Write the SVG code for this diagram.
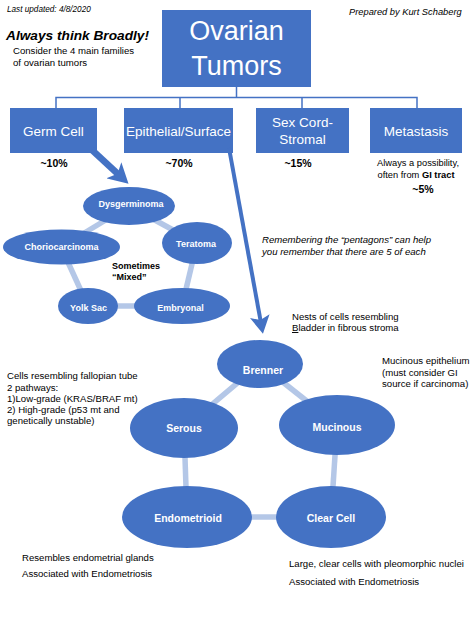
<svg xmlns="http://www.w3.org/2000/svg" width="474" height="632" viewBox="0 0 474 632">
<style>
text{font-family:"Liberation Sans",Arial,sans-serif;fill:#000}
.box{fill:#4472C4}
.bt{fill:#fff;font-size:13.5px;text-anchor:middle}
.ell{fill:#4472C4}
.et{fill:#fff;font-weight:bold;text-anchor:middle}
.g{font-size:9px}
.e{font-size:10.5px}
.pct{font-size:10.5px;font-weight:bold;text-anchor:middle}
.note{font-size:9.6px}
.tree{fill:none;stroke:#4472C4;stroke-width:1.5}
.pent{stroke:#B4C7E7;stroke-width:5.5;fill:none}
.arr{stroke:#4472C4;fill:none}
</style>
<defs>
<marker id="headBig" viewBox="0 0 20 22" refX="7" refY="11" markerWidth="20" markerHeight="22" markerUnits="userSpaceOnUse" orient="auto">
<path d="M0,0 L20,11 L0,22 L5,11 Z" fill="#4472C4"/>
</marker>
<marker id="headSmall" viewBox="0 0 18 20" refX="6" refY="10" markerWidth="18" markerHeight="20" markerUnits="userSpaceOnUse" orient="auto">
<path d="M0,0 L18,10 L0,20 L4,10 Z" fill="#4472C4"/>
</marker>
</defs>

<text x="7" y="12" font-size="8.2" font-style="italic">Last updated: 4/8/2020</text>
<text x="349" y="15" font-size="9.3" font-style="italic">Prepared by Kurt Schaberg</text>
<text x="6" y="40" font-size="13.7" font-style="italic" font-weight="bold">Always think Broadly!</text>
<text x="13" y="54" class="note">Consider the 4 main families</text>
<text x="13" y="66" class="note">of ovarian tumors</text>

<g id="connectors">
<path class="tree" d="M236.5,87 V97.5 M56,108 V97.5 H417 V108 M180,97.5 V108 M302,97.5 V108"/>
<line class="pent" x1="129" y1="206" x2="61" y2="247"/>
<line class="pent" x1="129" y1="206" x2="197" y2="243"/>
<line class="pent" x1="197" y1="243" x2="182" y2="306"/>
<line class="pent" x1="88" y1="306" x2="182" y2="306"/>
<line class="pent" x1="61" y1="247" x2="88" y2="306"/>
<line class="pent" x1="260" y1="364" x2="184" y2="428"/>
<line class="pent" x1="260" y1="364" x2="337" y2="425"/>
<line class="pent" x1="184" y1="428" x2="187" y2="517"/>
<line class="pent" x1="337" y1="425" x2="331" y2="517"/>
<line class="pent" x1="187" y1="517" x2="331" y2="517"/>
</g>

<g id="title">
<rect class="box" x="162" y="10" width="149" height="77"/>
<text x="236.5" y="40" font-size="27" fill="#fff" text-anchor="middle" style="fill:#fff">Ovarian</text>
<text x="236.5" y="75" font-size="27" text-anchor="middle" style="fill:#fff">Tumors</text>
</g>

<g id="germ-cell">
<rect class="box" x="10" y="108" width="87" height="45"/>
<text class="bt" x="53.5" y="136">Germ Cell</text>
<text class="pct" x="54" y="167">~10%</text>
</g>
<g id="epithelial">
<rect class="box" x="124" y="108" width="109" height="45"/>
<text class="bt" x="178.5" y="136">Epithelial/Surface</text>
<text class="pct" x="179" y="167">~70%</text>
</g>
<g id="sex-cord">
<rect class="box" x="256" y="108" width="93" height="45"/>
<text class="bt" x="302.5" y="127">Sex Cord-</text>
<text class="bt" x="302.5" y="144">Stromal</text>
<text class="pct" x="298" y="167">~15%</text>
</g>
<g id="metastasis">
<rect class="box" x="370" y="108" width="92" height="45"/>
<text class="bt" x="416" y="136">Metastasis</text>
<text x="418" y="166" font-size="9.3" text-anchor="middle">Always a possibility,</text>
<text x="416" y="178" font-size="9.3" text-anchor="middle">often from <tspan font-weight="bold">GI tract</tspan></text>
<text class="pct" x="423" y="193">~5%</text>
</g>

<g id="arrows">
<line class="arr" stroke-width="6.5" x1="92" y1="150" x2="119" y2="175" marker-end="url(#headBig)"/>
<line class="arr" stroke-width="4" x1="229" y1="148" x2="260.8" y2="322" marker-end="url(#headSmall)"/>
</g>

<g id="dysgerminoma">
<ellipse class="ell" cx="129" cy="206" rx="46" ry="19"/>
<text class="et g" x="131" y="207">Dysgerminoma</text>
</g>
<g id="choriocarcinoma">
<ellipse class="ell" cx="61.5" cy="247" rx="58.5" ry="17.5"/>
<text class="et g" x="61.5" y="250">Choriocarcinoma</text>
</g>
<g id="teratoma">
<ellipse class="ell" cx="197" cy="243" rx="35" ry="21"/>
<text class="et g" x="196" y="247">Teratoma</text>
</g>
<g id="yolk-sac">
<ellipse class="ell" cx="88" cy="306" rx="30" ry="18"/>
<text class="et g" x="88.5" y="311">Yolk Sac</text>
</g>
<g id="embryonal">
<ellipse class="ell" cx="182" cy="306" rx="48" ry="18"/>
<text class="et g" x="180.5" y="311">Embryonal</text>
</g>
<text x="112" y="269" font-size="9" font-weight="bold">Sometimes</text>
<text x="112" y="280" font-size="9" font-weight="bold">“Mixed”</text>

<text x="262" y="243" class="note" font-style="italic">Remembering the “pentagons” can help</text>
<text x="262" y="255" class="note" font-style="italic">you remember that there are 5 of each</text>

<text x="292" y="320" class="note">Nests of cells resembling</text>
<text x="292" y="331" class="note"><tspan text-decoration="underline">B</tspan>ladder in fibrous stroma</text>

<g id="brenner">
<ellipse class="ell" cx="260" cy="364" rx="43" ry="24"/>
<text class="et e" x="263" y="374">Brenner</text>
</g>
<g id="serous">
<ellipse class="ell" cx="184" cy="428" rx="54" ry="30"/>
<text class="et e" x="184" y="432">Serous</text>
</g>
<g id="mucinous">
<ellipse class="ell" cx="337" cy="425" rx="58" ry="30"/>
<text class="et e" x="337" y="431">Mucinous</text>
</g>
<g id="endometrioid">
<ellipse class="ell" cx="187" cy="517" rx="65" ry="31"/>
<text class="et e" x="188" y="522">Endometrioid</text>
</g>
<g id="clear-cell">
<ellipse class="ell" cx="331" cy="517" rx="55" ry="31"/>
<text class="et e" x="331" y="522">Clear Cell</text>
</g>

<text x="7" y="379" class="note">Cells resembling fallopian tube</text>
<text x="7" y="391" class="note">2 pathways:</text>
<text x="7" y="402" class="note">1)Low-grade (KRAS/BRAF mt)</text>
<text x="7" y="413" class="note">2) High-grade (p53 mt and</text>
<text x="7" y="424" class="note">genetically unstable)</text>

<text x="382" y="364" class="note">Mucinous epithelium</text>
<text x="382" y="376" class="note">(must consider GI</text>
<text x="382" y="387" class="note">source if carcinoma)</text>

<text x="22" y="561" class="note">Resembles endometrial glands</text>
<text x="22" y="577" class="note">Associated with Endometriosis</text>

<text x="289" y="567" class="note">Large, clear cells with pleomorphic nuclei</text>
<text x="289" y="585" class="note">Associated with Endometriosis</text>
</svg>
